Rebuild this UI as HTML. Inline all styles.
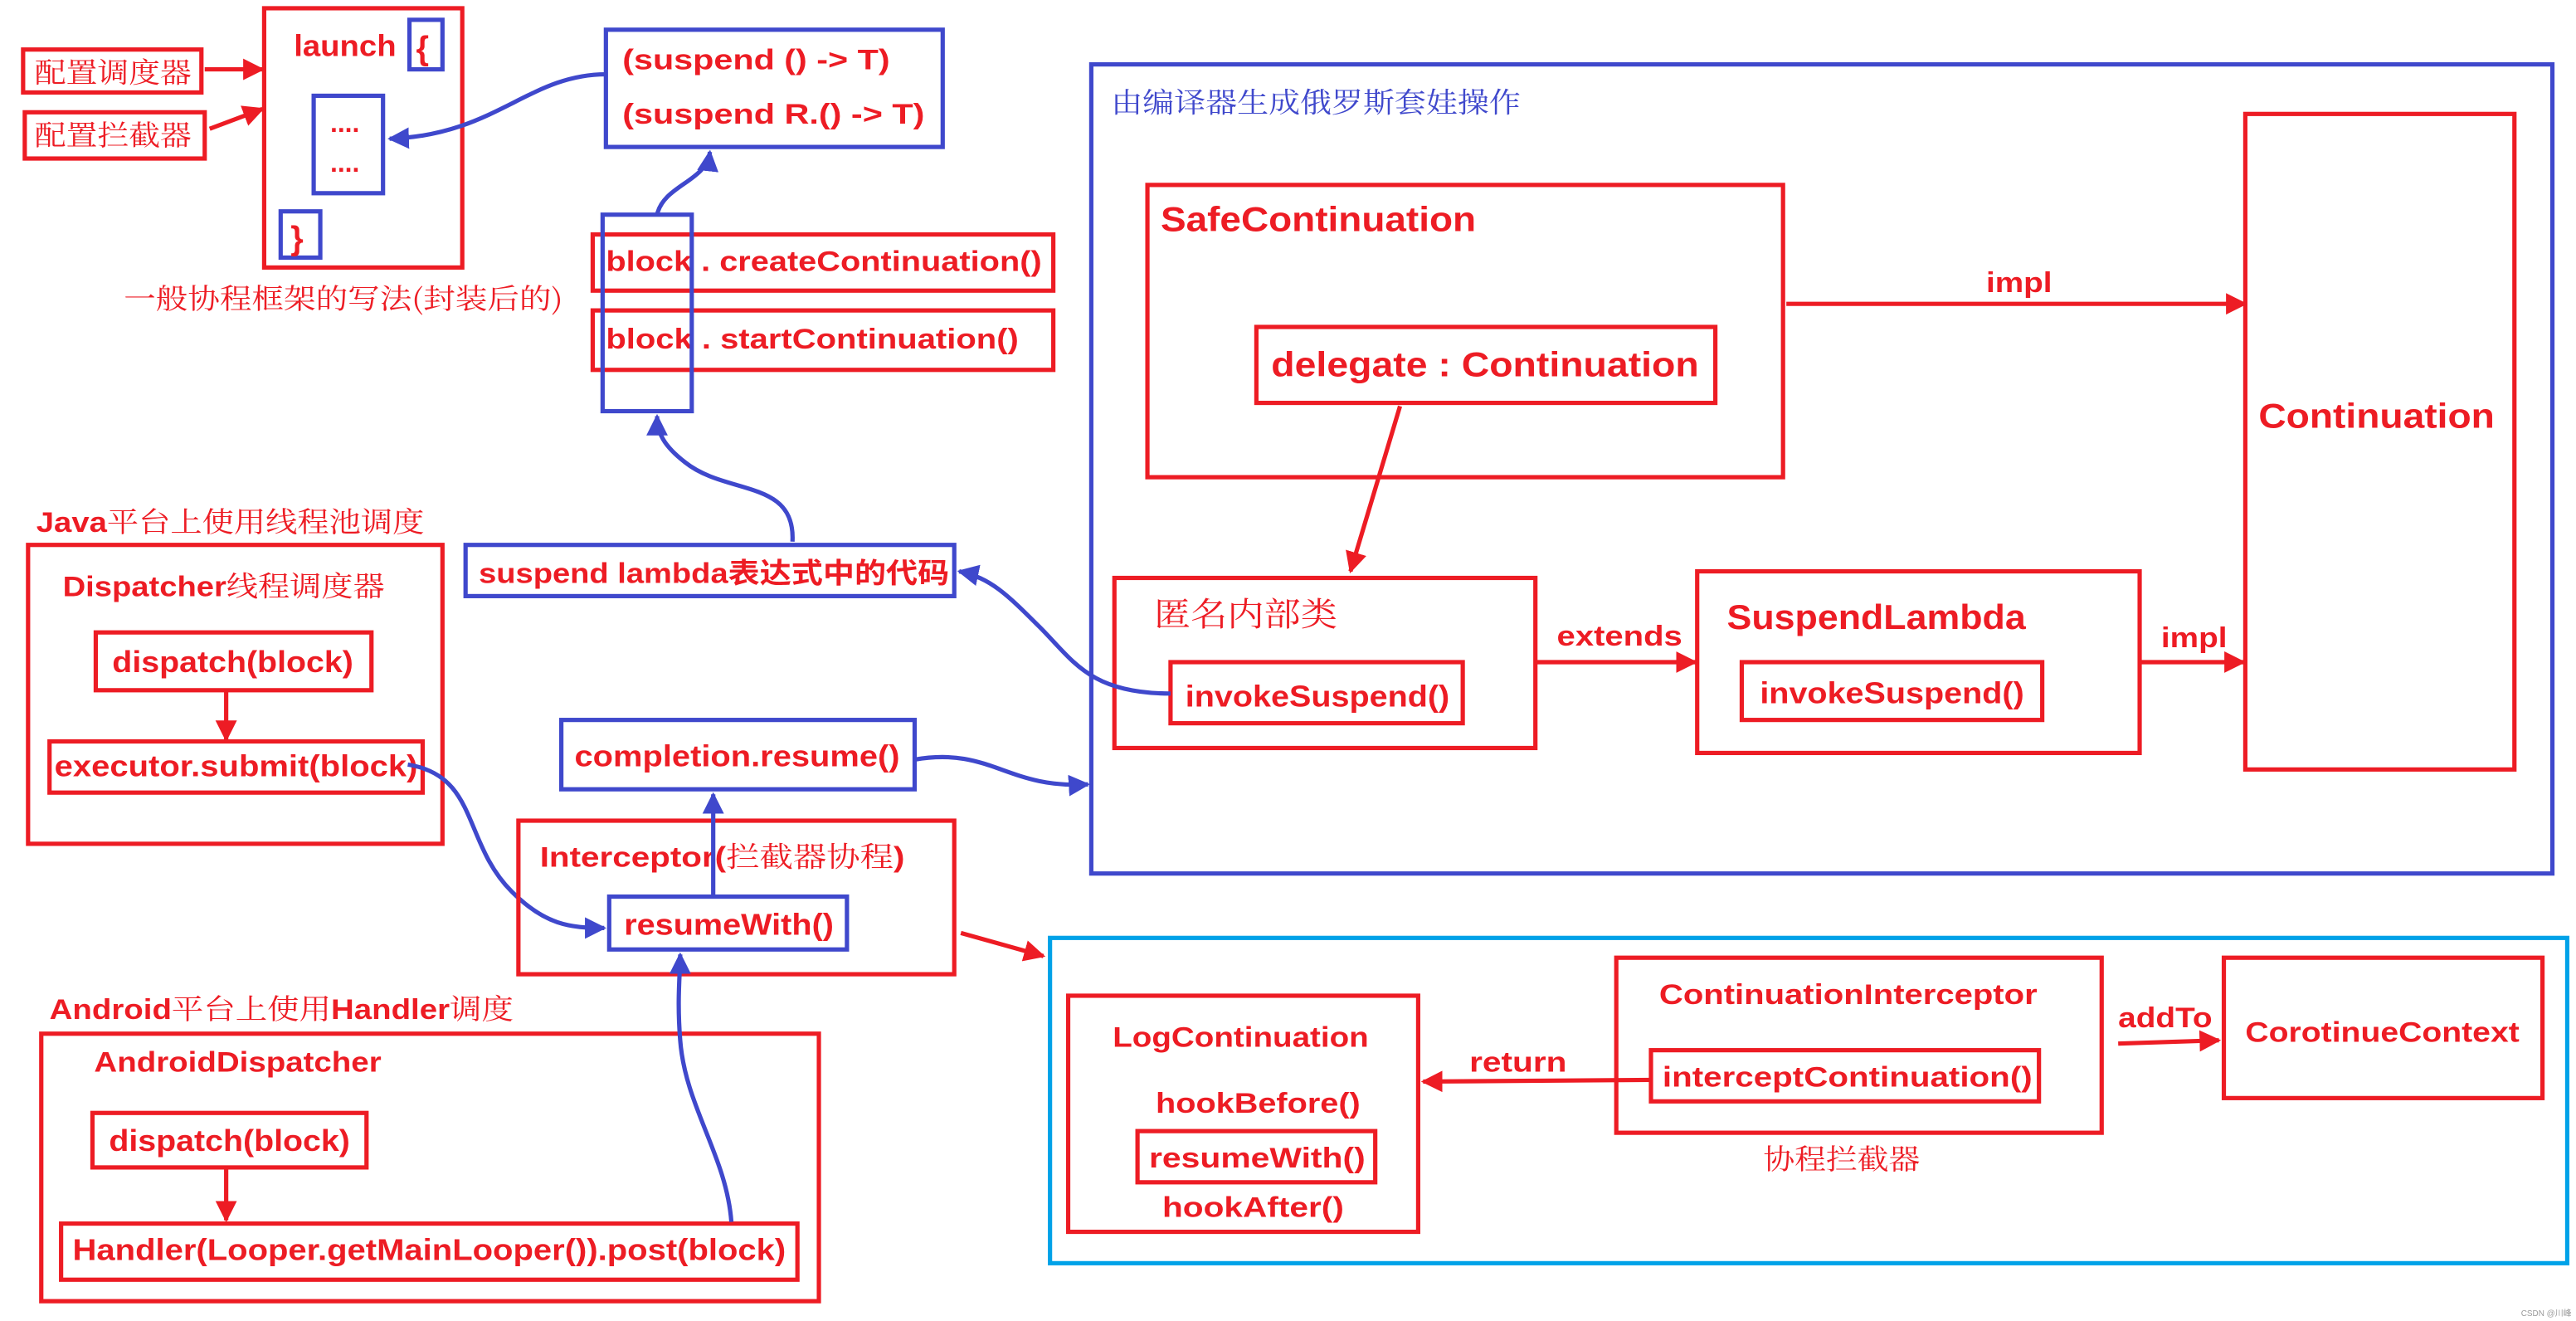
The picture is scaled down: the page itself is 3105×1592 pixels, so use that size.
<!DOCTYPE html>
<html><head><meta charset="utf-8"><style>
html,body{margin:0;padding:0;background:#fff;width:3105px;height:1592px;overflow:hidden}
svg{display:block}
text{font-family:"Liberation Sans","Noto Sans CJK SC",sans-serif;font-weight:bold;fill:#ed1c24}
.cn{font-family:"Noto Serif CJK SC","Liberation Serif",serif;font-weight:normal}
.r{fill:none;stroke:#ed1c24;stroke-width:2.6}
.b{fill:none;stroke:#3f48cc;stroke-width:2.6}
.bl{fill:none;stroke:#3f48cc;stroke-width:2.6}
.rl{fill:none;stroke:#ed1c24;stroke-width:2.6}
</style></head><body>
<svg width="3105" height="1592" viewBox="0 0 1560.3 800" preserveAspectRatio="none" xmlns="http://www.w3.org/2000/svg">
<defs>
<marker id="ar" viewBox="0 0 10 10" refX="9" refY="5" markerWidth="5" markerHeight="5" orient="auto"><path d="M0,0L10,5L0,10z" fill="#ed1c24"/></marker>
<marker id="ab" viewBox="0 0 10 10" refX="9" refY="5" markerWidth="5" markerHeight="5" orient="auto"><path d="M0,0L10,5L0,10z" fill="#3f48cc"/></marker>
</defs>

<!-- top-left -->
<rect class="r" x="14" y="30" width="108" height="26"/>
<text class="cn" x="21" y="50" font-size="17" textLength="95" lengthAdjust="spacingAndGlyphs">配置调度器</text>
<rect class="r" x="15" y="68" width="109" height="28"/>
<text class="cn" x="21" y="88" font-size="17" textLength="95" lengthAdjust="spacingAndGlyphs">配置拦截器</text>
<line class="rl" x1="124" y1="42" x2="159" y2="42" marker-end="url(#ar)"/>
<line class="rl" x1="127" y1="78" x2="159" y2="66" marker-end="url(#ar)"/>
<rect class="r" x="160" y="5" width="120" height="157"/>
<text x="178" y="34" font-size="18" textLength="62" lengthAdjust="spacingAndGlyphs">launch</text>
<rect class="b" x="248" y="12" width="20" height="30"/>
<text x="252" y="36" font-size="20">{</text>
<rect class="b" x="190" y="58" width="42" height="59"/>
<text x="200" y="80" font-size="16">....</text>
<text x="200" y="104" font-size="16">....</text>
<rect class="b" x="170" y="128" width="24" height="28"/>
<text x="176" y="151" font-size="20">}</text>
<text class="cn" x="75" y="187" font-size="17" textLength="266" lengthAdjust="spacingAndGlyphs">一般协程框架的写法(封装后的)</text>

<rect class="b" x="367" y="18" width="204" height="71"/>
<text x="377" y="42" font-size="17" textLength="162" lengthAdjust="spacingAndGlyphs">(suspend () -&gt; T)</text>
<text x="377" y="75" font-size="17" textLength="183" lengthAdjust="spacingAndGlyphs">(suspend R.() -&gt; T)</text>
<path class="bl" d="M367,45 C320,45 300,82 236,84" marker-end="url(#ab)"/>

<rect class="r" x="359" y="142" width="279" height="34"/>
<text x="367" y="164" font-size="17" textLength="264" lengthAdjust="spacingAndGlyphs">block . createContinuation()</text>
<rect class="r" x="359" y="188" width="279" height="36"/>
<text x="367" y="211" font-size="17" textLength="250" lengthAdjust="spacingAndGlyphs">block . startContinuation()</text>
<rect class="b" x="365" y="130" width="54" height="119"/>
<path class="bl" d="M398,130 C402,112 428,110 430,92" marker-end="url(#ab)"/>
<path class="bl" d="M480,328 C482,290 440,300 415,280 C402,270 398,262 398,252" marker-end="url(#ab)"/>
<rect class="b" x="282" y="330" width="296" height="31"/>
<text x="290" y="353" font-size="17" textLength="285" lengthAdjust="spacingAndGlyphs">suspend lambda表达式中的代码</text>

<!-- Java -->
<text x="22" y="322" font-size="17" textLength="235" lengthAdjust="spacingAndGlyphs">Java<tspan class="cn">平台上使用线程池调度</tspan></text>
<rect class="r" x="17" y="330" width="251" height="181"/>
<text x="38" y="361" font-size="17" textLength="195" lengthAdjust="spacingAndGlyphs">Dispatcher<tspan class="cn">线程调度器</tspan></text>
<rect class="r" x="58" y="383" width="167" height="35"/>
<text x="68" y="407" font-size="18" textLength="146" lengthAdjust="spacingAndGlyphs">dispatch(block)</text>
<line class="rl" x1="137" y1="418" x2="137" y2="448" marker-end="url(#ar)"/>
<rect class="r" x="30" y="449" width="226" height="31"/>
<text x="33" y="470" font-size="18" textLength="220" lengthAdjust="spacingAndGlyphs">executor.submit(block)</text>
<path class="bl" d="M247,463 C290,470 280,510 310,540 C330,560 345,562 366,562" marker-end="url(#ab)"/>

<rect class="b" x="340" y="436" width="214" height="42"/>
<text x="348" y="464" font-size="18" textLength="197" lengthAdjust="spacingAndGlyphs">completion.resume()</text>
<path class="bl" d="M554,460 C600,452 610,478 659,475" marker-end="url(#ab)"/>
<rect class="r" x="314" y="497" width="264" height="93"/>
<text x="327" y="525" font-size="17" textLength="221" lengthAdjust="spacingAndGlyphs">Interceptor(<tspan class="cn">拦截器协程</tspan>)</text>
<rect class="b" x="369" y="543" width="144" height="32"/>
<text x="378" y="566" font-size="18" textLength="127" lengthAdjust="spacingAndGlyphs">resumeWith()</text>
<line class="bl" x1="432" y1="543" x2="432" y2="481" marker-end="url(#ab)"/>
<line class="rl" x1="582" y1="565" x2="632" y2="579" marker-end="url(#ar)"/>

<!-- Android -->
<text x="30" y="617" font-size="17" textLength="281" lengthAdjust="spacingAndGlyphs">Android<tspan class="cn">平台上使用</tspan>Handler<tspan class="cn">调度</tspan></text>
<rect class="r" x="25" y="626" width="471" height="162"/>
<text x="57" y="649" font-size="17" textLength="174" lengthAdjust="spacingAndGlyphs">AndroidDispatcher</text>
<rect class="r" x="56" y="674" width="166" height="33"/>
<text x="66" y="697" font-size="18" textLength="146" lengthAdjust="spacingAndGlyphs">dispatch(block)</text>
<line class="rl" x1="137" y1="707" x2="137" y2="739" marker-end="url(#ar)"/>
<rect class="r" x="37" y="741" width="446" height="34"/>
<text x="44" y="763" font-size="18" textLength="432" lengthAdjust="spacingAndGlyphs">Handler(Looper.getMainLooper()).post(block)</text>
<path class="bl" d="M443,740 C440,700 415,670 412,630 C410,605 412,590 412,578" marker-end="url(#ab)"/>

<!-- big blue -->
<rect class="b" x="661" y="39" width="885" height="490"/>
<text class="cn" x="673" y="68" font-size="17" fill="#3f48cc" style="fill:#3f48cc" textLength="248" lengthAdjust="spacingAndGlyphs">由编译器生成俄罗斯套娃操作</text>
<rect class="r" x="695" y="112" width="385" height="177"/>
<text x="703" y="140" font-size="21" textLength="191" lengthAdjust="spacingAndGlyphs">SafeContinuation</text>
<rect class="r" x="761" y="198" width="278" height="46"/>
<text x="770" y="228" font-size="21" textLength="259" lengthAdjust="spacingAndGlyphs">delegate : Continuation</text>
<rect class="r" x="1360" y="69" width="163" height="397"/>
<text x="1368" y="259" font-size="21" textLength="143" lengthAdjust="spacingAndGlyphs">Continuation</text>
<line class="rl" x1="1082" y1="184" x2="1360" y2="184" marker-end="url(#ar)"/>
<text x="1203" y="177" font-size="17" textLength="40" lengthAdjust="spacingAndGlyphs">impl</text>
<line class="rl" x1="848" y1="246" x2="818" y2="346" marker-end="url(#ar)"/>
<rect class="r" x="675" y="350" width="255" height="103"/>
<text class="cn" x="699" y="379" font-size="20" textLength="111" lengthAdjust="spacingAndGlyphs">匿名内部类</text>
<rect class="r" x="709" y="401" width="177" height="37"/>
<text x="718" y="428" font-size="18" textLength="160" lengthAdjust="spacingAndGlyphs">invokeSuspend()</text>
<path class="bl" d="M709,420 C660,420 650,400 630,380 C610,360 600,350 581,346" marker-end="url(#ab)"/>
<line class="rl" x1="930" y1="401" x2="1027" y2="401" marker-end="url(#ar)"/>
<text x="943" y="391" font-size="17" textLength="76" lengthAdjust="spacingAndGlyphs">extends</text>
<rect class="r" x="1028" y="346" width="268" height="110"/>
<text x="1046" y="381" font-size="21" textLength="181" lengthAdjust="spacingAndGlyphs">SuspendLambda</text>
<rect class="r" x="1055" y="401" width="182" height="35"/>
<text x="1066" y="426" font-size="18" textLength="160" lengthAdjust="spacingAndGlyphs">invokeSuspend()</text>
<line class="rl" x1="1296" y1="401" x2="1359" y2="401" marker-end="url(#ar)"/>
<text x="1309" y="392" font-size="17" textLength="40" lengthAdjust="spacingAndGlyphs">impl</text>

<!-- cyan -->
<rect x="636" y="568" width="919" height="197" fill="none" stroke="#00a2e8" stroke-width="2.6"/>
<rect class="r" x="647" y="603" width="212" height="143"/>
<text x="674" y="634" font-size="17" textLength="155" lengthAdjust="spacingAndGlyphs">LogContinuation</text>
<text x="700" y="674" font-size="17" textLength="124" lengthAdjust="spacingAndGlyphs">hookBefore()</text>
<rect class="r" x="689" y="685" width="144" height="31"/>
<text x="696" y="707" font-size="17" textLength="131" lengthAdjust="spacingAndGlyphs">resumeWith()</text>
<text x="704" y="737" font-size="17" textLength="110" lengthAdjust="spacingAndGlyphs">hookAfter()</text>
<rect class="r" x="979" y="580" width="294" height="106"/>
<text x="1005" y="608" font-size="17" textLength="229" lengthAdjust="spacingAndGlyphs">ContinuationInterceptor</text>
<rect class="r" x="1000" y="636" width="235" height="31"/>
<text x="1007" y="658" font-size="17" textLength="224" lengthAdjust="spacingAndGlyphs">interceptContinuation()</text>
<line class="rl" x1="1000" y1="654" x2="862" y2="655" marker-end="url(#ar)"/>
<text x="890" y="649" font-size="17" textLength="59" lengthAdjust="spacingAndGlyphs">return</text>
<text class="cn" x="1068" y="708" font-size="17" textLength="95" lengthAdjust="spacingAndGlyphs">协程拦截器</text>
<rect class="r" x="1347" y="580" width="193" height="85"/>
<text x="1360" y="631" font-size="17" textLength="166" lengthAdjust="spacingAndGlyphs">CorotinueContext</text>
<line class="rl" x1="1283" y1="632" x2="1344" y2="630" marker-end="url(#ar)"/>
<text x="1283" y="622" font-size="17" textLength="57" lengthAdjust="spacingAndGlyphs">addTo</text>
<text x="1527" y="797" font-size="5" style="fill:#999;font-weight:normal">CSDN @川峰</text>
</svg>
</body></html>
